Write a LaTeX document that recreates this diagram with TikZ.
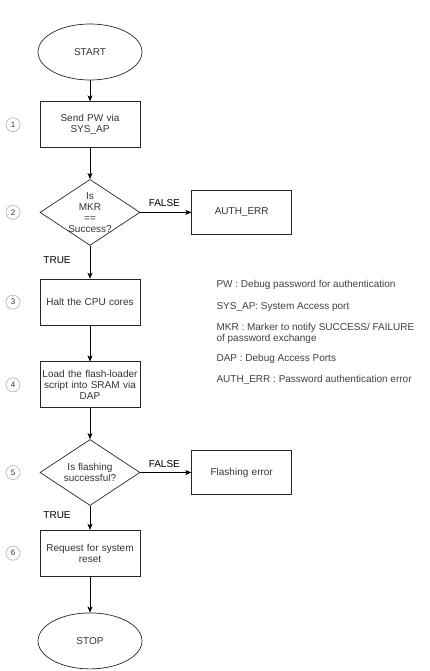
\documentclass[tikz,border=0pt]{standalone}
\usepackage{fontspec}
\setmainfont{Liberation Sans}
\usetikzlibrary{shapes.geometric, positioning, calc, arrows.meta}

\tikzset{
	proc/.style={draw=black!85, line width=0.7pt, rectangle, minimum width=100pt, minimum height=46pt, inner sep=2pt, text width=96pt, align=center},
	term/.style={draw=black!85, line width=0.7pt, ellipse, minimum width=104pt, minimum height=56pt},
	dec/.style={draw=black!85, line width=0.7pt, diamond, minimum width=100pt, minimum height=66pt, inner sep=0pt},
	dlab/.style={align=center, inner sep=0pt},
	flow/.style={-{Stealth[length=6pt, width=5pt, inset=1.5pt]}, line width=0.7pt, black},
	lbl/.style={inner sep=0pt},
	num/.style={circle, draw=black!25, line width=0.8pt, minimum size=14pt, inner sep=0pt, font=\fontsize{8pt}{8pt}\selectfont},
	legend/.style={anchor=west, align=left, text=black!75},
}

\begin{document}
\begin{tikzpicture}[x=1pt, y=1pt, font=\fontsize{10pt}{11pt}\selectfont, text=black!80]
	\useasboundingbox (0,0) rectangle (430,-671);

	\node[term] (s) at (90,-52) {START};
	\node[proc, below=21pt of s] (b1) {Send PW via\\SYS\_AP};
	\node[dec, below=31pt of b1, label={[dlab]center:Is\\MKR\\==\\Success?}] (d1) {};
	\node[proc, below=33pt of d1] (b3) {Halt the CPU cores};
	\node[proc, below=36pt of b3] (b4) {Load the flash-loader\\script into SRAM via\\DAP};
	\node[dec, below=31pt of b4, label={[dlab]center:Is flashing\\successful?}] (d2) {};
	\node[proc, below=24pt of d2] (b6) {Request for system\\reset};
	\node[term, below=36pt of b6] (e) {STOP};

	\node[proc, right=51pt of d1, minimum height=44pt] (x1) {AUTH\_ERR};
	\node[proc, right=51pt of d2, minimum height=44pt] (x2) {Flashing error};

	\foreach \n/\m in {b1/1, d1/2, b3/3, b4/4, d2/5, b6/6}
		\node[num] (n\m) at ($(\n)+(-77,0)$) {\m};

	\node[legend] (k1) at (213,-285) {PW : Debug password for authentication};
	\node[legend] (k2) at (213,-307) {SYS\_AP: System Access port};
	\node[legend] (k3) at (213,-333) {MKR : Marker to notify SUCCESS/ FAILURE\\of password exchange};
	\node[legend] (k4) at (213,-359) {DAP : Debug Access Ports};
	\node[legend] (k5) at (213,-380) {AUTH\_ERR : Password authentication error};

	\draw[flow] (s) -- (b1);
	\draw[flow] (b1) -- (d1);
	\draw[flow] (d1) -- node[lbl, left=19pt, pos=0.42] {TRUE} (b3);
	\draw[flow] (d1) -- node[lbl, above=5pt, pos=0.47] {FALSE} (x1);
	\draw[flow] (b3) -- (b4);
	\draw[flow] (b4) -- (d2);
	\draw[flow] (d2) -- node[lbl, left=19pt, pos=0.4] {TRUE} (b6);
	\draw[flow] (d2) -- node[lbl, above=5pt, pos=0.47] {FALSE} (x2);
	\draw[flow] (b6) -- (e);
\end{tikzpicture}
\end{document}
